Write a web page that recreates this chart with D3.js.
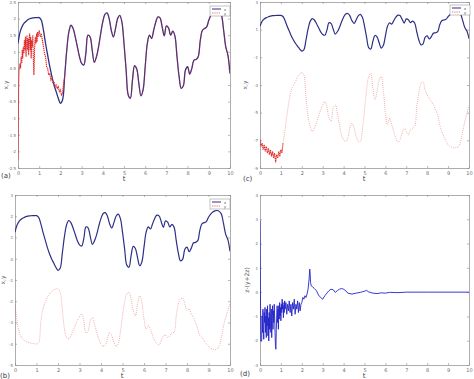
<!DOCTYPE html>
<html><head><meta charset="utf-8">
<script src="https://cdn.jsdelivr.net/npm/d3@7"></script>
<style>body{margin:0;background:#fff}svg{display:block}text{font-family:"DejaVu Sans",sans-serif}</style>
</head><body><svg id="c" width="474" height="379"></svg>
<script>
// ---- data ----
const tTicks = [0,1,2,3,4,5,6,7,8,9,10];
const tStep = d3.range(0, 101).map(i => i / 10);           // sample times 0..10 step 0.1
// x(t) — blue solid curve (shared by panels a, b, c)
const xVals = [1.25,1.60,1.77,1.87,1.93,1.98,2.01,2.02,2.03,2.03,2.03,1.95,1.65,1.25,0.90,0.55,0.25,0.00,-0.20,-0.40,
  -0.55,-0.45,0.25,1.05,1.60,1.80,1.70,1.45,1.15,0.85,0.65,0.60,0.95,1.50,1.45,1.05,0.68,0.85,1.15,1.55,
  1.90,2.13,2.17,2.00,1.65,1.45,1.70,2.00,2.10,1.90,1.25,0.45,-0.30,-0.40,0.15,0.58,0.48,0.05,-0.33,-0.15,
  0.55,1.25,1.50,1.40,1.65,1.90,2.05,2.02,1.75,1.48,1.78,1.72,1.50,1.62,1.48,0.85,0.25,-0.10,-0.02,0.45,
  0.55,0.33,0.50,0.75,0.77,0.85,1.35,1.65,1.70,1.75,1.95,2.10,2.20,2.25,2.27,2.23,2.10,1.65,1.15,0.90,0.35];
// panel (a): red estimate, noisy start (t, value)
const yaT = [0,0.01,0.02,0.03,0.05,0.07,0.1,0.12,0.15,0.18,0.2,0.22,0.25,0.28,0.3,0.33,0.35,0.38,0.4,0.42,0.45,0.48,0.5,0.52,0.55,0.58,0.6,0.62,0.65,0.68,0.7,0.72,0.75,0.78,0.8,0.82,0.85,0.88,0.9,0.92,0.95,0.98,1.0,1.05,1.1,1.15,1.2,1.25,1.3,1.35,1.4,1.45,1.5,1.55,1.6,1.65,1.7,1.75,1.8,1.85,1.9,1.95,2.0,2.05,2.1,2.15,2.2];
const yaV = [-2.25,-1.45,-0.75,-0.05,0.45,0.55,0.65,0.50,0.85,0.65,1.05,0.80,1.15,0.95,1.35,1.05,1.45,0.85,1.35,1.50,1.05,1.40,0.90,1.35,1.55,1.05,1.45,0.80,1.35,1.15,1.50,0.85,0.30,1.05,1.35,1.45,1.25,1.55,1.30,1.60,1.45,1.55,1.65,1.45,1.55,1.35,1.15,0.95,0.85,0.55,0.50,0.30,0.35,0.15,0.20,0.05,0.10,-0.05,0.00,-0.10,-0.05,-0.20,-0.15,-0.30,-0.25,0.05,0.25];
// panel (b): red y(t), step 0.1
const ybVals = [-2.05,-2.99,-3.46,-3.70,-3.81,-3.89,-3.93,-3.96,-3.98,-4.00,-4.01,-3.95,-2.99,-2.36,-2.05,-1.82,-1.66,-1.55,-1.47,-1.42,
  -1.42,-1.58,-2.36,-3.31,-3.70,-3.78,-3.62,-3.38,-3.15,-2.91,-2.73,-2.60,-2.91,-3.50,-3.40,-2.91,-2.76,-3.07,-3.46,-3.78,
  -4.01,-4.12,-4.06,-3.78,-3.46,-3.62,-3.93,-4.12,-4.01,-3.46,-2.68,-2.05,-1.66,-1.58,-1.89,-2.44,-2.68,-2.13,-1.74,-2.05,
  -2.84,-3.31,-3.15,-3.31,-3.62,-3.86,-4.01,-4.06,-3.86,-3.62,-3.59,-3.70,-3.62,-3.49,-3.46,-2.68,-2.13,-1.89,-1.86,-2.13,
  -2.44,-2.36,-2.60,-2.76,-2.99,-3.31,-3.62,-3.70,-3.86,-4.01,-4.12,-4.22,-4.25,-4.28,-4.25,-4.09,-3.70,-3.15,-2.76,-2.44,-2.13];
// panel (c): red y(t), noisy start (step 0.05 to 1.1), then step 0.1 from 1.2
const ycNoisyV = [-6.96,-7.44,-7.20,-7.68,-7.32,-7.80,-7.44,-7.92,-7.56,-8.04,-7.68,-8.16,-7.80,-8.28,-7.92,-8.59,-8.04,-8.28,-7.80,-8.16,-7.68,-7.92,-7.20];
const ycVals = [-6.24,-5.04,-4.08,-3.36,-3.00,-2.76,-2.40,-2.21,-2.11,-2.28,-3.84,-5.28,-6.00,-6.36,-6.12,-5.76,-5.28,-4.80,
  -4.44,-4.20,-4.56,-5.40,-5.64,-4.68,-4.44,-5.04,-5.88,-6.60,-6.96,-7.08,-6.84,-6.12,-5.76,-6.12,-6.72,-7.08,-7.08,-6.24,
  -4.80,-3.36,-2.40,-2.16,-3.24,-4.08,-3.48,-2.64,-2.40,-3.36,-5.04,-5.88,-5.40,-5.88,-6.36,-6.84,-7.15,-6.96,-6.48,-6.12,
  -6.36,-6.60,-6.24,-6.12,-6.00,-4.56,-3.60,-2.88,-2.76,-3.36,-3.72,-3.96,-4.20,-4.44,-4.80,-5.16,-5.88,-6.36,-6.72,-7.08,
  -7.32,-7.44,-7.51,-7.56,-7.51,-7.44,-7.08,-6.36,-5.64,-5.04,-4.56];
// panel (d): z-(y+2z)
const zT = [0,0.02,0.04,0.08,0.10,0.12,0.14,0.16,0.18,0.20,0.22,0.24,0.26,0.28,0.30,0.32,0.34,0.36,0.38,0.40,0.42,0.44,0.46,0.48,0.50,
  0.52,0.54,0.56,0.58,0.60,0.62,0.64,0.66,0.68,0.70,0.72,0.74,0.76,0.78,0.80,0.82,0.84,0.86,0.88,0.90,0.92,0.94,0.96,0.98,1.00,
  1.02,1.04,1.06,1.08,1.10,1.12,1.14,1.16,1.18,1.20,1.24,1.28,1.32,1.36,1.40,1.44,1.48,1.52,1.56,1.60,1.64,1.68,1.72,1.76,1.80,
  1.84,1.88,1.92,1.96,2.00,2.05,2.10,2.15,2.20,2.25,2.30,2.35,2.38,2.40,2.42,2.45,2.50,2.60,2.70,2.80,2.90,3.00,3.10,3.20,3.30,
  3.40,3.50,3.60,3.70,3.80,3.90,4.00,4.10,4.20,4.40,4.60,4.80,5.00,5.10,5.20,5.40,5.60,5.80,6.00,6.20,6.60,7.00,8.00,9.00,10.00];
const zV = [2.94,0.12,-2.01,-2.01,-0.98,-1.66,-0.70,-1.53,-1.94,-0.84,-1.25,-0.63,-1.66,-0.98,-1.87,-0.70,-1.39,-0.56,-1.80,-1.05,-2.01,-0.84,-1.53,-0.50,-1.25,
  -1.66,-0.70,-1.87,-0.98,-0.56,-1.53,-0.77,-1.25,-0.50,-0.98,-1.66,-2.21,-2.35,-1.53,-0.98,-0.56,-1.25,-0.70,-1.53,-0.56,-1.11,-0.43,-0.98,-0.63,-1.18,
  -0.50,-0.84,-0.29,-0.70,-0.43,-1.05,-0.56,-0.84,-0.36,-0.70,-0.43,-0.91,-0.50,-0.77,-0.36,-0.84,-0.50,-0.98,-0.43,-0.70,-0.29,-0.91,-0.50,-0.70,-0.36,
  -0.84,-0.43,-0.77,-0.50,-0.43,-0.22,-0.29,-0.15,-0.22,-0.08,0.12,0.54,0.95,0.74,0.40,0.26,0.23,0.15,0.06,-0.12,-0.22,-0.29,-0.15,-0.04,0.06,
  0.12,0.10,-0.01,0.06,0.12,0.15,0.12,0.06,-0.04,-0.08,-0.04,-0.01,0.04,0.07,0.01,-0.04,-0.06,-0.03,-0.04,-0.01,-0.02,0,0,0,0];

// ---- layout ----
const svg = d3.select("#c");
const panels = {
  a: {x0:18, x1:230, y0:2,   y1:168, dom:[-2.5,2.5], ticks:d3.range(-2.5,2.51,0.5), ylab:"x,y",      tag:"(a)", tagX:1,   tagY:178, ylx:8,   tx:124},
  c: {x0:260,x1:469, y0:2,   y1:168, dom:[-9,3],     ticks:d3.range(-9,3.1,2),      ylab:"x,y",      tag:"(c)", tagX:243, tagY:181, ylx:247, tx:364},
  b: {x0:15, x1:230, y0:195, y1:365, dom:[-5,3],     ticks:d3.range(-5,3.1,1),      ylab:"x,y",      tag:"(b)", tagX:0,   tagY:378, ylx:5,   tx:122},
  d: {x0:260,x1:469, y0:195, y1:365, dom:[-3,4],     ticks:d3.range(-3,4.1,1),      ylab:"z-(y+2z)", tag:"(d)", tagX:240, tagY:376, ylx:249, tx:364}
};
const blue = "#2c2f86", red = "#e02a2a", axc = "#8a8a8a";

function setup(key){
  const p = panels[key];
  p.xs = d3.scaleLinear().domain([0,10]).range([p.x0,p.x1]);
  p.ys = d3.scaleLinear().domain(p.dom).range([p.y1,p.y0]);
  const g = svg.append("g");
  g.append("clipPath").attr("id","clip"+key).append("rect")
    .attr("x",p.x0).attr("y",p.y0).attr("width",p.x1-p.x0).attr("height",p.y1-p.y0);
  const fmt = d => (Math.round(d*10)/10).toString();
  const ax = (gen, tr) => {
    const a = g.append("g").attr("transform",tr).call(gen);
    a.select(".domain").attr("stroke",axc).attr("stroke-width",0.7);
    a.selectAll(".tick line").attr("stroke",axc).attr("stroke-width",0.6);
    a.selectAll("text").attr("fill","#6d6d6d").attr("font-size",5);
    return a;
  };
  ax(d3.axisBottom(p.xs).tickValues(tTicks).tickSizeInner(-2).tickSizeOuter(0).tickPadding(3), `translate(0,${p.y1})`);
  ax(d3.axisTop(p.xs).tickValues(tTicks).tickSizeInner(-2).tickSizeOuter(0).tickFormat(""), `translate(0,${p.y0})`);
  ax(d3.axisLeft(p.ys).tickValues(p.ticks).tickSizeInner(-2).tickSizeOuter(0).tickPadding(2).tickFormat(fmt), `translate(${p.x0},0)`)
    .selectAll("text").attr("font-size",4);
  ax(d3.axisRight(p.ys).tickValues(p.ticks).tickSizeInner(-2).tickSizeOuter(0).tickFormat(""), `translate(${p.x1},0)`);
  g.append("text").attr("x",p.tx).attr("y",p.y1+13).attr("font-size",7).attr("fill","#444").attr("text-anchor","middle").text("t");
  g.append("text").attr("transform",`translate(${p.ylx},${(p.y0+p.y1)/2}) rotate(-90)`).attr("font-size",6)
    .attr("fill","#555").attr("text-anchor","middle").text(p.ylab);
  g.append("text").attr("x",p.tagX).attr("y",p.tagY).attr("font-size",7).attr("fill","#334").text(p.tag);
  p.plot = g.append("g").attr("clip-path",`url(#clip${key})`);
  return p;
}
function draw(p, T, V, color, width, dash, curve, op){
  const line = d3.line().x((d,i)=>p.xs(T[i])).y(d=>p.ys(d)).curve(curve||d3.curveCatmullRom);
  const path = p.plot.append("path").datum(V).attr("d",line).attr("fill","none")
    .attr("stroke",color).attr("stroke-width",width).attr("stroke-opacity",op||1);
  if(dash) path.attr("stroke-dasharray",dash);
}
function legend(p, lx, ly){
  const g = svg.append("g");
  g.append("rect").attr("x",lx).attr("y",ly).attr("width",20).attr("height",10).attr("fill","#fff").attr("stroke","#888").attr("stroke-width",0.5);
  g.append("line").attr("x1",lx+2).attr("x2",lx+11).attr("y1",ly+3).attr("y2",ly+3).attr("stroke",blue).attr("stroke-width",1);
  g.append("line").attr("x1",lx+2).attr("x2",lx+11).attr("y1",ly+7).attr("y2",ly+7).attr("stroke",red).attr("stroke-width",0.8).attr("stroke-dasharray","0.8,1");
  g.append("text").attr("x",lx+14).attr("y",ly+4.5).attr("font-size",3.5).attr("fill","#444").text("x");
  g.append("text").attr("x",lx+14).attr("y",ly+8.5).attr("font-size",3.5).attr("fill","#444").text("y");
}

// panel (a)
const pa = setup("a");
draw(pa, tStep, xVals, blue, 1.3);
draw(pa, yaT, yaV, red, 1.1, "1.4,0.6", d3.curveLinear);
draw(pa, tStep.slice(22), xVals.slice(22), red, 0.9, "1,1", null, 0.8);
legend(pa, 210, 6);

// panel (c)
const pc = setup("c");
draw(pc, tStep, xVals, blue, 1.2);
const ycNoisyT = d3.range(0, 23).map(i => i * 0.05);
draw(pc, ycNoisyT, ycNoisyV, red, 1.1, "1.4,0.6", d3.curveLinear);
draw(pc, [1.1].concat(tStep.slice(12)), [-7.2].concat(ycVals), red, 0.7, "0.7,1.3", null, 0.75);
legend(pc, 450, 5);

// panel (b)
const pb = setup("b");
draw(pb, tStep, xVals, blue, 1.2);
draw(pb, tStep, ybVals, red, 0.7, "0.7,1.3", null, 0.75);
legend(pb, 210, 199);

// panel (d)
const pd = setup("d");
draw(pd, zT, zV, "#2424c8", 0.9, null, d3.curveLinear);
</script></body></html>
